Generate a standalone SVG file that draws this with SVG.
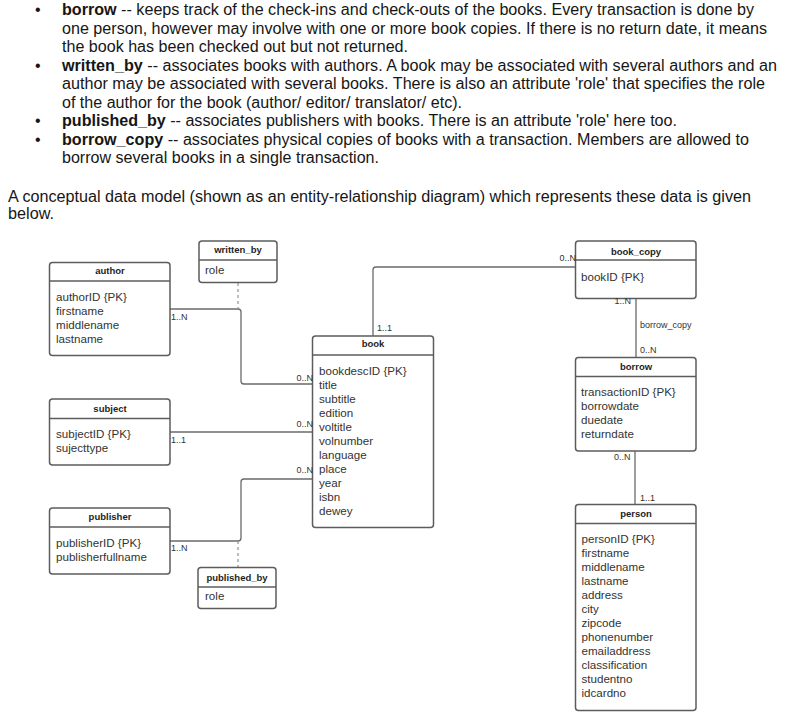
<svg xmlns="http://www.w3.org/2000/svg" width="785" height="715" viewBox="0 0 785 715">
<style>
.doc{font-family:"Liberation Sans",Arial,sans-serif;font-size:16px;fill:#161616}
.b{font-weight:bold}
.box{fill:#fff;stroke:#5c5c5c;stroke-width:1.5}
.sep{stroke:#5c5c5c;stroke-width:1.5}
.hd{font-family:"Liberation Sans",Arial,sans-serif;font-size:9.5px;font-weight:bold;fill:#1e1e1e;text-anchor:middle}
.at{font-family:"Liberation Sans",Arial,sans-serif;font-size:11.6px;fill:#333}
.lb{font-family:"Liberation Sans",Arial,sans-serif;font-size:9px;fill:#333}
.ln{fill:none;stroke:#6a6a6a;stroke-width:1.3}
.dash{fill:none;stroke:#9a9a9a;stroke-width:1.3;stroke-dasharray:3 3}
</style>
<rect width="785" height="715" fill="#fff"/>
<g id="intro-text" class="doc">
<text x="35" y="15">•</text>
<text x="62" y="15" textLength="692" lengthAdjust="spacingAndGlyphs"><tspan class="b">borrow</tspan> -- keeps track of the check-ins and check-outs of the books. Every transaction is done by</text>
<text x="62" y="34" textLength="705" lengthAdjust="spacingAndGlyphs">one person, however may involve with one or more book copies. If there is no return date, it means</text>
<text x="62" y="52" textLength="346" lengthAdjust="spacingAndGlyphs">the book has been checked out but not returned.</text>
<text x="35" y="71">•</text>
<text x="62" y="71" textLength="715" lengthAdjust="spacingAndGlyphs"><tspan class="b">written_by</tspan> -- associates books with authors. A book may be associated with several authors and an</text>
<text x="62" y="89" textLength="703" lengthAdjust="spacingAndGlyphs">author may be associated with several books. There is also an attribute 'role' that specifies the role</text>
<text x="62" y="108" textLength="400" lengthAdjust="spacingAndGlyphs">of the author for the book (author/ editor/ translator/ etc).</text>
<text x="35" y="126">•</text>
<text x="62" y="126" textLength="615" lengthAdjust="spacingAndGlyphs"><tspan class="b">published_by</tspan> -- associates publishers with books. There is an attribute 'role' here too.</text>
<text x="35" y="145">•</text>
<text x="62" y="145" textLength="687" lengthAdjust="spacingAndGlyphs"><tspan class="b">borrow_copy</tspan> -- associates physical copies of books with a transaction. Members are allowed to</text>
<text x="62" y="163" textLength="317" lengthAdjust="spacingAndGlyphs">borrow several books in a single transaction.</text>
<text x="8" y="202" textLength="743" lengthAdjust="spacingAndGlyphs">A conceptual data model (shown as an entity-relationship diagram) which represents these data is given</text>
<text x="8" y="219" textLength="46" lengthAdjust="spacingAndGlyphs">below.</text>
</g>
<g id="connectors">
<path class="ln" d="M170,309 H238 Q241,309 241,312 V381 Q241,384 244,384 H313"/>
<path class="dash" d="M238,283 V309"/>
<path class="ln" d="M170,432 H313"/>
<path class="ln" d="M313,479 H244 Q241,479 241,482 V538 Q241,541 238,541 H170"/>
<path class="dash" d="M238,541 V567"/>
<path class="ln" d="M373,336 V270 Q373,267 376,267 H575"/>
<path class="ln" d="M636,298 V357"/>
<path class="ln" d="M635,451 V504"/>
</g>
<g id="author">
<rect class="box" x="49.5" y="262.5" width="120.5" height="93" rx="3"/>
<line class="sep" x1="49.5" y1="281" x2="170" y2="281"/>
<text class="hd" x="110" y="274">author</text>
<text class="at" x="56" y="301">authorID {PK}</text>
<text class="at" x="56" y="315">firstname</text>
<text class="at" x="56" y="329">middlename</text>
<text class="at" x="56" y="343">lastname</text>
</g>
<g id="written_by">
<rect class="box" x="199" y="241" width="78" height="41.5" rx="3"/>
<line class="sep" x1="199" y1="260" x2="277" y2="260"/>
<text class="hd" x="238" y="253">written_by</text>
<text class="at" x="205" y="274">role</text>
</g>
<g id="book">
<rect class="box" x="312.5" y="336" width="121" height="191.5" rx="3"/>
<line class="sep" x1="312.5" y1="355" x2="433.5" y2="355"/>
<text class="hd" x="373" y="347">book</text>
<text class="at" x="319" y="375">bookdescID {PK}</text>
<text class="at" x="319" y="389">title</text>
<text class="at" x="319" y="403">subtitle</text>
<text class="at" x="319" y="417">edition</text>
<text class="at" x="319" y="431">voltitle</text>
<text class="at" x="319" y="445">volnumber</text>
<text class="at" x="319" y="459">language</text>
<text class="at" x="319" y="473">place</text>
<text class="at" x="319" y="487">year</text>
<text class="at" x="319" y="501">isbn</text>
<text class="at" x="319" y="515">dewey</text>
</g>
<g id="book_copy">
<rect class="box" x="575.5" y="241" width="120.5" height="57.5" rx="3"/>
<line class="sep" x1="575.5" y1="260" x2="696" y2="260"/>
<text class="hd" x="636" y="255">book_copy</text>
<text class="at" x="581" y="281">bookID {PK}</text>
</g>
<g id="borrow">
<rect class="box" x="575.5" y="357.5" width="120.5" height="93.5" rx="3"/>
<line class="sep" x1="575.5" y1="376.5" x2="696" y2="376.5"/>
<text class="hd" x="636" y="370">borrow</text>
<text class="at" x="581" y="396">transactionID {PK}</text>
<text class="at" x="581" y="410">borrowdate</text>
<text class="at" x="581" y="424">duedate</text>
<text class="at" x="581" y="438">returndate</text>
</g>
<g id="person">
<rect class="box" x="575.5" y="504.5" width="120.5" height="206" rx="3"/>
<line class="sep" x1="575.5" y1="523.5" x2="696" y2="523.5"/>
<text class="hd" x="636" y="517">person</text>
<text class="at" x="581.5" y="543">personID {PK}</text>
<text class="at" x="581.5" y="557">firstname</text>
<text class="at" x="581.5" y="571">middlename</text>
<text class="at" x="581.5" y="585">lastname</text>
<text class="at" x="581.5" y="599">address</text>
<text class="at" x="581.5" y="613">city</text>
<text class="at" x="581.5" y="627">zipcode</text>
<text class="at" x="581.5" y="641">phonenumber</text>
<text class="at" x="581.5" y="655">emailaddress</text>
<text class="at" x="581.5" y="669">classification</text>
<text class="at" x="581.5" y="683">studentno</text>
<text class="at" x="581.5" y="697">idcardno</text>
</g>
<g id="subject">
<rect class="box" x="49.5" y="399" width="120.5" height="66" rx="3"/>
<line class="sep" x1="49.5" y1="418.5" x2="170" y2="418.5"/>
<text class="hd" x="110" y="412">subject</text>
<text class="at" x="56" y="438">subjectID {PK}</text>
<text class="at" x="56" y="452">sujecttype</text>
</g>
<g id="publisher">
<rect class="box" x="49.5" y="508" width="120.5" height="66" rx="3"/>
<line class="sep" x1="49.5" y1="527" x2="170" y2="527"/>
<text class="hd" x="110" y="520">publisher</text>
<text class="at" x="56" y="547">publisherID {PK}</text>
<text class="at" x="56" y="561">publisherfullname</text>
</g>
<g id="published_by">
<rect class="box" x="198" y="567.5" width="78" height="41" rx="3"/>
<line class="sep" x1="198" y1="587" x2="276" y2="587"/>
<text class="hd" x="237" y="581">published_by</text>
<text class="at" x="205" y="600">role</text>
</g>
<g id="connector-labels">
<text class="lb" x="171" y="320">1..N</text>
<text class="lb" x="313" y="381" text-anchor="end">0..N</text>
<text class="lb" x="171" y="443">1..1</text>
<text class="lb" x="313" y="427" text-anchor="end">0..N</text>
<text class="lb" x="313" y="473" text-anchor="end">0..N</text>
<text class="lb" x="171" y="551">1..N</text>
<text class="lb" x="377" y="331">1..1</text>
<text class="lb" x="576" y="261" text-anchor="end">0..N</text>
<text class="lb" x="631" y="304" text-anchor="end">1..N</text>
<text class="lb" x="640" y="328" font-size="9.6">borrow_copy</text>
<text class="lb" x="640" y="353">0..N</text>
<text class="lb" x="614" y="460">0..N</text>
<text class="lb" x="640" y="501">1..1</text>
</g>
</svg>
